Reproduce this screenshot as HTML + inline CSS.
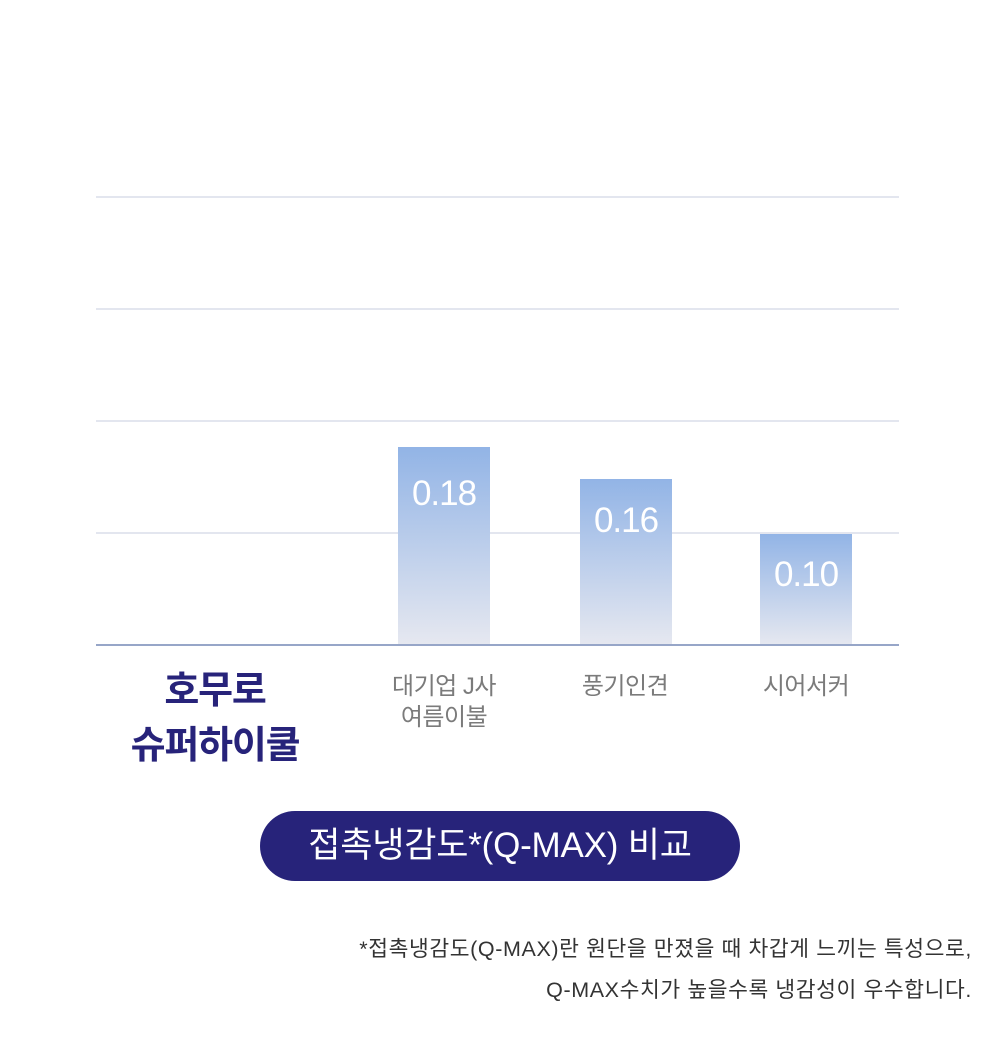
<!DOCTYPE html>
<html><head><meta charset="utf-8"><style>
body{margin:0;width:1000px;height:1057px;background:#fff;position:relative;overflow:hidden;font-family:"Liberation Sans","Noto Sans CJK KR",sans-serif}
.g{position:absolute;left:96px;width:803px;height:2px;background:#e3e6ef}
.bar{position:absolute;width:92px;background:linear-gradient(#92b4e6,#e6e8f0);color:#fff;font-size:35px;text-align:center;letter-spacing:-1px}
.lab{position:absolute;width:200px;text-align:center;color:#7b7b7b;font-size:24px;line-height:31px;letter-spacing:-0.5px}
</style></head><body>
<div class="g" style="top:196px"></div>
<div class="g" style="top:308px"></div>
<div class="g" style="top:420px"></div>
<div class="g" style="top:532px"></div>
<div class="bar" style="left:398px;top:447px;height:198px"><div style="margin-top:27px">0.18</div></div>
<div class="bar" style="left:580px;top:479px;height:166px"><div style="margin-top:22px">0.16</div></div>
<div class="bar" style="left:760px;top:534px;height:111px"><div style="margin-top:21px">0.10</div></div>
<div style="position:absolute;left:96px;top:644px;width:803px;height:2px;background:#97a6c8"></div>
<div style="position:absolute;left:65px;top:664px;width:300px;text-align:center;color:#27237a;font-size:38px;font-weight:bold;line-height:55px;letter-spacing:-1.2px">호무로<br>슈퍼하이쿨</div>
<div class="lab" style="left:344px;top:671px">대기업 J사<br>여름이불</div>
<div class="lab" style="left:525px;top:671px">풍기인견</div>
<div class="lab" style="left:706px;top:671px">시어서커</div>
<div style="position:absolute;left:260px;top:811px;width:480px;height:70px;border-radius:35px;background:#27237a;color:#fff;font-size:35px;line-height:70px;text-align:center;letter-spacing:-0.2px">접촉냉감도*(Q-MAX) 비교</div>
<div style="position:absolute;right:28px;top:929px;text-align:right;color:#333;font-size:21.5px;line-height:41px;letter-spacing:0.6px;white-space:nowrap">*접촉냉감도(Q-MAX)란 원단을 만졌을 때 차갑게 느끼는 특성으로,<br>Q-MAX수치가 높을수록 냉감성이 우수합니다.</div>
</body></html>
